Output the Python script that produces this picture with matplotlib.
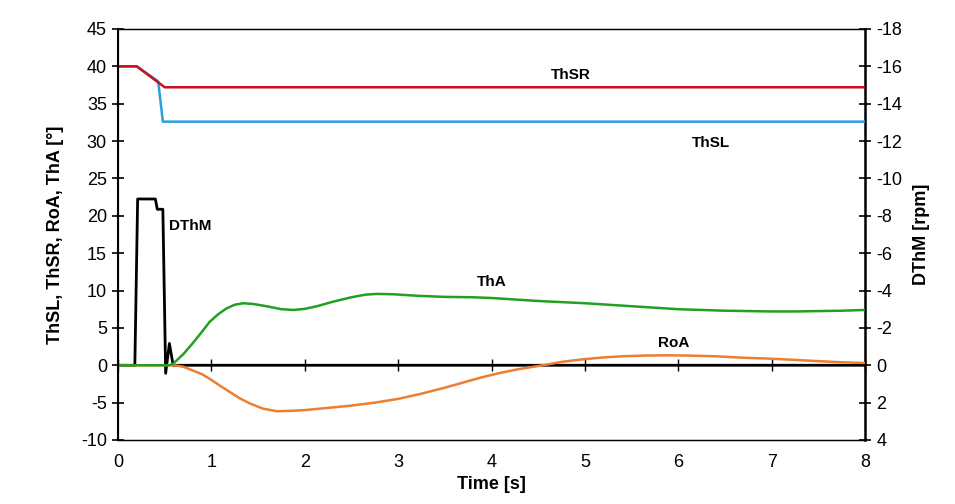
import numpy as np
from matplotlib import pyplot as plt

plt.rcParams['font.family'] = ['Liberation Sans', 'DejaVu Sans']
plt.rcParams['axes.unicode_minus'] = False

# ThSR / ThSL (left axis, deg)
tSR = [0, 0.2, 0.5, 8]
thSR = [40.0, 40.0, 37.2, 37.2]
tSL = [0, 0.2, 0.43, 0.48, 8]
thSL = [40.0, 40.0, 38.0, 32.6, 32.6]

# ThA (left axis, deg)
tA = [0, 0.55, 0.59, 0.7, 0.81, 0.9, 0.98, 1.07, 1.16, 1.25, 1.34, 1.45, 1.59, 1.75,
      1.88, 2.0, 2.13, 2.3, 2.5, 2.65, 2.77, 2.95, 3.2, 3.5, 3.8, 4.0, 4.25, 4.5,
      4.75, 5.0, 5.25, 5.5, 5.75, 6.0, 6.25, 6.5, 6.75, 7.0, 7.25, 7.5, 7.75, 8.0]
thA = [0, 0, 0.2, 1.5, 3.1, 4.5, 5.8, 6.8, 7.6, 8.1, 8.3, 8.2, 7.9, 7.5,
       7.4, 7.55, 7.9, 8.5, 9.1, 9.45, 9.55, 9.5, 9.3, 9.15, 9.1, 9.0, 8.8, 8.6,
       8.45, 8.3, 8.1, 7.9, 7.7, 7.5, 7.4, 7.3, 7.25, 7.2, 7.2, 7.25, 7.3, 7.4]

# RoA (left axis, deg)
tR = [0, 0.6, 0.7, 0.8, 0.9, 0.98, 1.1, 1.2, 1.3, 1.41, 1.55, 1.7, 1.85, 2.0,
      2.25, 2.5, 2.75, 3.0, 3.25, 3.5, 3.7, 3.9, 4.1, 4.3, 4.55, 4.75, 4.98,
      5.2, 5.4, 5.65, 5.88, 6.1, 6.4, 6.7, 6.95, 7.2, 7.5, 7.75, 8.0]
roA = [0, 0, -0.2, -0.7, -1.2, -1.8, -2.8, -3.6, -4.4, -5.1, -5.8, -6.15, -6.1, -6.0,
       -5.7, -5.4, -5.0, -4.5, -3.8, -3.0, -2.3, -1.6, -1.0, -0.5, 0, 0.45, 0.8,
       1.05, 1.2, 1.3, 1.33, 1.3, 1.2, 1.0, 0.9, 0.75, 0.55, 0.4, 0.3]

# DThM (right axis, rpm)
tM = [0, 0.18, 0.21, 0.40, 0.42, 0.48, 0.51, 0.55, 0.59, 8]
dThM = [0, 0, -8.9, -8.9, -8.35, -8.35, 0.43, -1.17, 0, 0]

labels = [("ThSR", 4.85, 38.8), ("ThSL", 6.35, 29.8), ("DThM", 0.77, 18.6),
          ("ThA", 4.0, 11.2), ("RoA", 5.95, 3.0)]

fig = plt.figure(figsize=(9.55, 5.04), dpi=100)
ax = fig.add_axes([0.1236, 0.127, 0.7822, 0.8155])
ax2 = ax.twinx()
ax.set_zorder(ax2.get_zorder() + 1)
ax.patch.set_visible(False)

ax2.plot(tM, dThM, color='black', lw=2.0)
ax.plot(tR, roA, color='#ED7D31', lw=1.8)
ax.plot(tA, thA, color='#22A022', lw=1.8)
ax.plot(tSL, thSL, color='#2A9DE0', lw=1.8)
ax.plot(tSR, thSR, color='#C8101E', lw=1.8)

ax.set_xlim(0, 8)
ax.set_ylim(-10, 45)
ax.set_yticks(np.arange(-10, 46, 5))
ax.set_xticks(np.arange(0, 9, 1))
ax2.set_ylim(4, -18)
ax2.set_yticks(np.arange(-18, 5, 2))

ax.tick_params(axis='x', length=0, labelsize=13, pad=10)
ax.tick_params(axis='y', direction='inout', length=9, width=1.2, labelsize=13)
ax2.tick_params(axis='y', direction='inout', length=9, width=1.2, labelsize=13)

# x axis crossing at zero
sec = ax.secondary_xaxis(10 / 55)
sec.set_xticks(np.arange(0, 9, 1))
sec.tick_params(direction='inout', length=9, width=1.0, labelbottom=False)
sec.spines['bottom'].set_visible(False)

ax.spines['left'].set_linewidth(1.5)
ax2.spines['right'].set_linewidth(1.8)
for a in (ax, ax2):
    a.spines['top'].set_linewidth(0.9)
    a.spines['bottom'].set_linewidth(0.9)

ax.set_xlabel("Time [s]", fontsize=13, fontweight='bold', labelpad=4)
ax.set_ylabel("ThSL, ThSR, RoA, ThA [°]", fontsize=13, fontweight='bold', labelpad=12)
ax2.set_ylabel("DThM [rpm]", fontsize=13, fontweight='bold', labelpad=8)

for txt, x, y in labels:
    ax.text(x, y, txt, fontsize=11, fontweight='bold', ha='center', va='center')

plt.savefig("out.png", dpi=100)
